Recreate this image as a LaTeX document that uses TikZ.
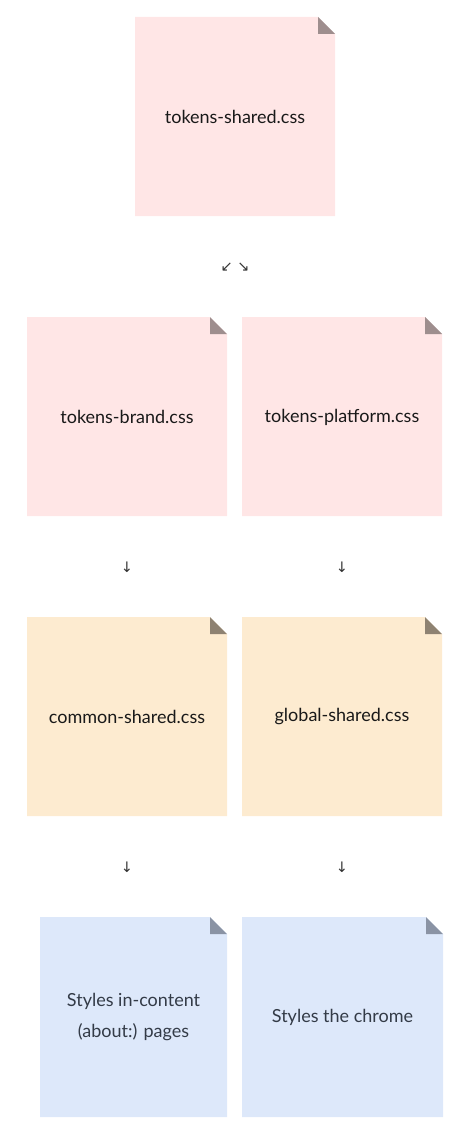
\documentclass[tikz,border=0pt]{standalone}
\usepackage{fontspec}
\setmainfont{Lato}
\newfontfamily\arrowfont{DejaVu Sans}
\usetikzlibrary{calc}
\definecolor{tokenpink}{HTML}{FFE6E6}
\definecolor{tokenpinkfold}{HTML}{9E8E8E}
\definecolor{sharedorange}{HTML}{FDEBD0}
\definecolor{sharedorangefold}{HTML}{8E8272}
\definecolor{styleblue}{HTML}{DDE8FA}
\definecolor{stylebluefold}{HTML}{8A93A4}
\definecolor{styletext}{HTML}{333B47}
\def\notebox[#1][#2](#3,#4)(#5,#6){\fill[#1] (#3,#4) -- ({#5-17},#4) -- (#5,{#4+17}) -- (#5,#6) -- (#3,#6) -- cycle; \fill[#2] ({#5-17},#4) -- ({#5-17},{#4+17}) -- (#5,{#4+17}) -- cycle;}

\begin{document}
\begin{tikzpicture}[x=1pt, y=-1pt,
	notetext/.style={font=\fontsize{18}{31}\selectfont, text=black!90, align=center},
	styletxt/.style={notetext, text=styletext},
	flowarrow/.style={font=\arrowfont\fontsize{14.5}{14.5}\selectfont, text=black!80}]
			%%%%% START %%%%%
			
			\useasboundingbox (0, 0) rectangle (465, 1140);
			
			\notebox[tokenpink][tokenpinkfold](135, 17)(335, 216);
			\node[notetext] (shared) at (235, 117) {tokens-shared.css};
			
			\node[flowarrow] (split) at (235, 267) {↙ ↘};
			
			\notebox[tokenpink][tokenpinkfold](27, 317)(227, 516);
			\node[notetext] (brand) at (127, 417) {tokens-brand.css};
			
			\notebox[tokenpink][tokenpinkfold](242, 317)(442, 516);
			\node[notetext] (platform) at (342, 417) {tokens-platform.css};
			
			\node[flowarrow] (brand down) at (127, 567) {↓};
			\node[flowarrow] (platform down) at (342, 567) {↓};
			
			\notebox[sharedorange][sharedorangefold](27, 617)(227, 816);
			\node[notetext] (common) at (127, 717) {common-shared.css};
			
			\notebox[sharedorange][sharedorangefold](242, 617)(442, 816);
			\node[notetext] (global) at (342, 717) {global-shared.css};
			
			\node[flowarrow] (common down) at (127, 867) {↓};
			\node[flowarrow] (global down) at (342, 867) {↓};
			
			\notebox[styleblue][stylebluefold](40, 917)(227, 1117);
			\node[styletxt] (content) at (133.5, 1017) {Styles in-content\\(about:) pages};
			
			\notebox[styleblue][stylebluefold](242, 917)(443, 1117);
			\node[styletxt] (chrome) at (342.5, 1017) {Styles the chrome};
			
			%%%%% END %%%%%
\end{tikzpicture}
\end{document}
